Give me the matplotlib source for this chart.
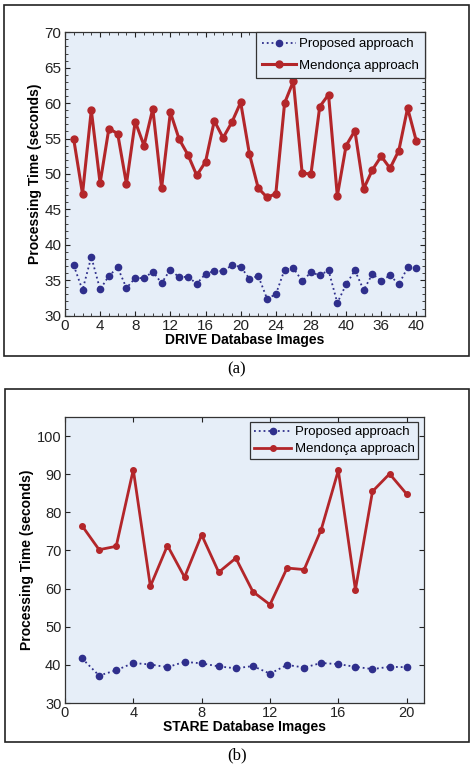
import matplotlib
matplotlib.use("Agg")
import matplotlib.pyplot as plt
from matplotlib.patches import Rectangle
from matplotlib.ticker import MultipleLocator
import numpy as np

plt.rcParams['font.family'] = ['Liberation Sans', 'DejaVu Sans']

# ---- Data: (a) DRIVE ----
drive_images = list(range(1, 41))
drive_proposed = [37.1, 33.6, 38.3, 33.7, 35.6, 36.8, 33.9, 35.3, 35.3, 36.2,
                  34.6, 36.5, 35.4, 35.5, 34.5, 35.9, 36.3, 36.3, 37.1, 36.9,
                  35.2, 35.6, 32.4, 33.0, 36.5, 36.7, 34.9, 36.1, 35.7, 36.4,
                  31.8, 34.4, 36.4, 33.6, 35.9, 34.9, 35.7, 34.4, 36.8, 36.7]
drive_mendonca = [54.9, 47.2, 59.0, 48.7, 56.4, 55.7, 48.6, 57.4, 54.0, 59.2,
                  48.0, 58.7, 54.9, 52.7, 49.8, 51.7, 57.5, 55.1, 57.3, 60.1,
                  52.8, 48.0, 46.7, 47.2, 60.0, 63.1, 50.1, 50.0, 59.5, 61.2,
                  46.9, 54.0, 56.1, 47.9, 50.6, 52.5, 50.8, 53.3, 59.3, 54.6]
drive_xticks = [0, 4, 8, 12, 16, 20, 24, 28, 32, 36, 40]
drive_xticklabels = ['0', '4', '8', '12', '16', '20', '24', '28', '40', '36', '40']
drive_yticks = [30, 35, 40, 45, 50, 55, 60, 65, 70]

# ---- Data: (b) STARE ----
stare_images = list(range(1, 21))
stare_proposed = [41.7, 37.2, 38.6, 40.5, 40.1, 39.4, 40.8, 40.4, 39.6, 39.1,
                  39.7, 37.7, 40.0, 39.3, 40.5, 40.2, 39.5, 38.9, 39.5, 39.4]
stare_mendonca = [76.5, 70.2, 71.1, 91.2, 60.6, 71.3, 63.0, 74.1, 64.3, 68.0,
                  59.2, 55.8, 65.4, 65.0, 75.5, 91.0, 59.7, 85.5, 90.1, 84.8]
stare_xticks = [0, 4, 8, 12, 16, 20]
stare_yticks = [30, 40, 50, 60, 70, 80, 90, 100]

labels = ['Proposed approach', 'Mendon\u00e7a approach']

RED = '#b3262a'
BLUE = '#2f2f8c'
BG = '#e6eef8'

fig = plt.figure(figsize=(4.74, 7.68), dpi=100)

# frames
fig.patches.append(Rectangle((0.0084, 0.5365), 0.981, 0.457, transform=fig.transFigure,
                             fill=False, edgecolor='#222222', linewidth=1.2))
fig.patches.append(Rectangle((0.0105, 0.0339), 0.979, 0.4596, transform=fig.transFigure,
                             fill=False, edgecolor='#222222', linewidth=1.2))


def style(ax, size):
    ax.set_facecolor(BG)
    for s in ax.spines.values():
        s.set_color('#333333')
        s.set_linewidth(0.9)
    ax.tick_params(direction='in', which='both', top=True, right=True,
                   labelsize=size, colors='#222222', pad=2.5)
    ax.tick_params(which='major', length=3.5)
    ax.tick_params(which='minor', length=2)


# (a)
ax1 = fig.add_axes([0.137, 0.589, 0.760, 0.369])
style(ax1, 11)
ax1.plot(drive_images, drive_proposed, linestyle=':', color=BLUE, linewidth=1.3,
         marker='o', markersize=4.5, label=labels[0])
ax1.plot(drive_images, drive_mendonca, linestyle='-', color=RED, linewidth=2.2,
         marker='o', markersize=5, label=labels[1])
ax1.set_xlim(0, 41)
ax1.set_ylim(30, 70)
ax1.set_xticks(drive_xticks)
ax1.set_xticklabels(drive_xticklabels)
ax1.set_yticks(drive_yticks)
ax1.xaxis.set_minor_locator(MultipleLocator(1))
ax1.yaxis.set_minor_locator(MultipleLocator(1))
ax1.set_xlabel('DRIVE Database Images', fontsize=10, fontweight='bold', labelpad=0)
ax1.set_ylabel('Processing Time (seconds)', fontsize=10, fontweight='bold', labelpad=2)
leg1 = ax1.legend(loc='upper right', borderaxespad=0, fontsize=9.5, fancybox=False,
                  framealpha=1, edgecolor='#333333', handlelength=2.6,
                  handletextpad=0.25, borderpad=0.45, labelspacing=0.7)
leg1.get_frame().set_facecolor(BG)
leg1.get_frame().set_linewidth(0.9)
fig.text(0.5, 1 - 369 / 768, '(a)', ha='center', va='center', fontsize=12,
         family=['Liberation Serif', 'DejaVu Serif'])

# (b)
ax2 = fig.add_axes([0.137, 0.0846, 0.757, 0.3724])
style(ax2, 10.5)
ax2.plot(stare_images, stare_proposed, linestyle=':', color=BLUE, linewidth=1.3,
         marker='o', markersize=4.5, label=labels[0])
ax2.plot(stare_images, stare_mendonca, linestyle='-', color=RED, linewidth=2.0,
         marker='o', markersize=4, label=labels[1])
ax2.set_xlim(0, 21)
ax2.set_ylim(30, 105)
ax2.set_xticks(stare_xticks)
ax2.set_yticks(stare_yticks)
ax2.set_xlabel('STARE Database Images', fontsize=10, fontweight='bold', labelpad=0)
ax2.set_ylabel('Processing Time (seconds)', fontsize=10, fontweight='bold', labelpad=2)
leg2 = ax2.legend(loc='upper right', borderaxespad=0.4, fontsize=9.5, fancybox=False,
                  framealpha=1, edgecolor='#333333', handlelength=2.8,
                  handletextpad=0.25, borderpad=0.3, labelspacing=0.35)
leg2.get_frame().set_facecolor(BG)
leg2.get_frame().set_linewidth(0.9)
fig.text(0.5, 1 - 755 / 768, '(b)', ha='center', va='center', fontsize=12,
         family=['Liberation Serif', 'DejaVu Serif'])

fig.savefig('out.png', dpi=100, facecolor='white')
